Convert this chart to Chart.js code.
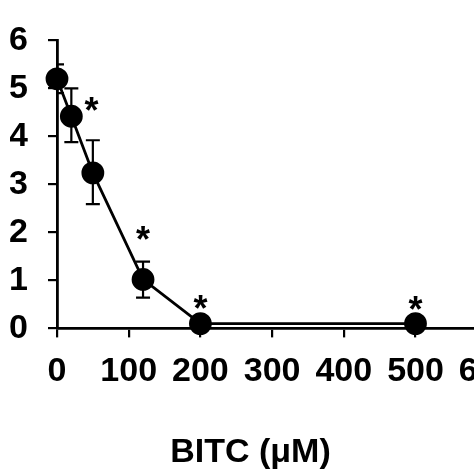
<!DOCTYPE html>
<html>
<head>
<meta charset="utf-8">
<script src="https://cdn.jsdelivr.net/npm/chart.js@4"></script>
<style>
html,body{margin:0;padding:0;background:#fff;overflow:hidden;width:474px;height:474px;}
#wrap{position:absolute;left:0;top:0;width:500px;height:474px;}
</style>
</head>
<body>
<div id="wrap"><canvas id="c" width="500" height="474"></canvas></div>
<script>
// Data
const concentrations = [0, 20, 50, 120, 200, 500];
const meanValues     = [5.2, 4.42, 3.24, 1.02, 0.1, 0.1];
const errUpper       = [5.5, 5.0, 3.92, 1.39, 0.1, 0.1];
const errLower       = [4.9, 3.88, 2.59, 0.64, 0.1, 0.1];
const starX          = [48, 120, 200, 500];
const starY          = [4.67, 1.99, 0.54, 0.53];
const xTicks         = [0, 100, 200, 300, 400, 500, 600];
const yTicks         = [0, 1, 2, 3, 4, 5, 6];
const xTitle         = 'BITC (\u03bcM)';

const FONT = "'Liberation Sans', Arial, sans-serif";

const errorBars = {
  id: 'errorBars',
  beforeDatasetsDraw(chart) {
    const {ctx, chartArea, scales: {x, y}} = chart;
    ctx.save();
    ctx.beginPath();
    ctx.rect(chartArea.left, 0, chart.width, chart.height);
    ctx.clip();
    ctx.strokeStyle = '#000';
    ctx.lineWidth = 2.2;
    const cap = 7;
    concentrations.forEach((c, i) => {
      if (errUpper[i] === errLower[i]) return;
      const px = x.getPixelForValue(c);
      const pt = y.getPixelForValue(errUpper[i]);
      const pb = y.getPixelForValue(errLower[i]);
      ctx.beginPath();
      ctx.moveTo(px, pt); ctx.lineTo(px, pb);
      ctx.moveTo(px - cap, pt); ctx.lineTo(px + cap, pt);
      ctx.moveTo(px - cap, pb); ctx.lineTo(px + cap, pb);
      ctx.stroke();
    });
    ctx.restore();
  }
};

const stars = {
  id: 'stars',
  afterDatasetsDraw(chart) {
    const {ctx, scales: {x, y}} = chart;
    ctx.save();
    ctx.fillStyle = '#000';
    ctx.font = "bold 36px " + FONT;
    ctx.textAlign = 'center';
    ctx.textBaseline = 'alphabetic';
    const m = ctx.measureText('*');
    const off = (m.actualBoundingBoxAscent - m.actualBoundingBoxDescent) / 2;
    starX.forEach((sx, i) => {
      ctx.fillText('*', x.getPixelForValue(sx), y.getPixelForValue(starY[i]) + off);
    });
    ctx.restore();
  }
};

new Chart(document.getElementById('c'), {
  type: 'line',
  data: {
    datasets: [{
      data: concentrations.map((c, i) => ({x: c, y: meanValues[i]})),
      borderColor: '#000',
      backgroundColor: '#000',
      borderWidth: 2.8,
      pointRadius: 10,
      pointHoverRadius: 10,
      pointBackgroundColor: '#000',
      pointBorderColor: '#000',
      tension: 0,
      clip: false
    }]
  },
  options: {
    responsive: false,
    animation: false,
    events: [],
    layout: {padding: {left: 10, right: 9, top: 39, bottom: 0}},
    plugins: {
      legend: {display: false},
      tooltip: {enabled: false},
      title: {
        display: true,
        text: xTitle,
        position: 'bottom',
        color: '#000',
        font: {family: FONT, size: 34, weight: 'bold', lineHeight: 1.2},
        padding: {top: 26, bottom: 1}
      }
    },
    scales: {
      x: {
        type: 'linear',
        min: 0, max: 600,
        afterBuildTicks(s) { s.ticks = xTicks.map(v => ({value: v})); },
        afterFit(s) { s.paddingLeft = 0; s.paddingRight = 0; },
        ticks: {
          color: '#000',
          padding: 14,
          maxRotation: 0,
          autoSkip: false,
          font: {family: FONT, size: 34, weight: 'bold', lineHeight: 1.2}
        },
        grid: {drawOnChartArea: false, drawTicks: true, tickLength: 9, color: '#000', lineWidth: 2.2},
        border: {display: true, color: '#000', width: 2.8}
      },
      y: {
        type: 'linear',
        min: 0, max: 6,
        afterBuildTicks(s) { s.ticks = yTicks.map(v => ({value: v})); },
        afterFit(s) { s.width = 47; },
        ticks: {
          color: '#000',
          padding: 20,
          font: {family: FONT, size: 34, weight: 'bold', lineHeight: 1.2}
        },
        grid: {drawOnChartArea: false, drawTicks: true, tickLength: 9, color: '#000', lineWidth: 2.2},
        border: {display: true, color: '#000', width: 2.8}
      }
    }
  },
  plugins: [errorBars, stars]
});
</script>
</body>
</html>
